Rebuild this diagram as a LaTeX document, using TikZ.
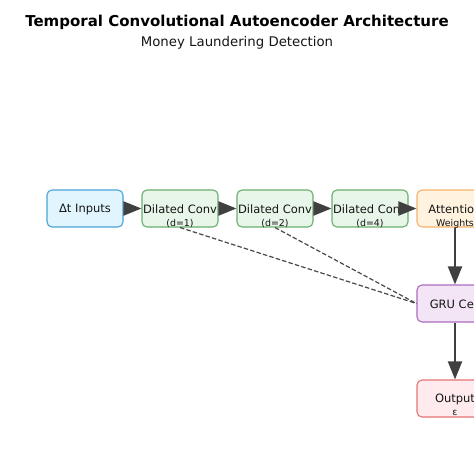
\documentclass[tikz,border=0pt]{standalone}
\usepackage{fontspec}
\setmainfont{DejaVu Sans}
\usetikzlibrary{arrows.meta}
\definecolor{txt}{HTML}{151515}
\definecolor{arr}{HTML}{404040}
\definecolor{dsh}{HTML}{484848}
\definecolor{inF}{HTML}{E1F5FE}\definecolor{inD}{HTML}{4BA3D9}
\definecolor{cvF}{HTML}{E8F5E9}\definecolor{cvD}{HTML}{6AAF6E}
\definecolor{atF}{HTML}{FFF3E0}\definecolor{atD}{HTML}{F5B26B}
\definecolor{grF}{HTML}{F3E5F5}\definecolor{grD}{HTML}{AB6CC0}
\definecolor{ouF}{HTML}{FFEBEE}\definecolor{ouD}{HTML}{E57373}
\tikzset{
  blk/.style={draw=#1D, fill=#1F, line width=1.1pt, rounded corners=5pt,
    minimum width=76pt, minimum height=37pt, inner sep=0pt},
  lab/.style={inner sep=0pt, text=txt, font=\fontsize{11.5}{13}\selectfont},
  sub/.style={inner sep=0pt, text=txt, font=\fontsize{9.4}{11}\selectfont},
  flow/.style={draw=arr, line width=2pt, -{Triangle[length=18pt,width=14pt]}, fill=arr},
  skip/.style={draw=dsh, line width=1.2pt, dash pattern=on 4.5pt off 2.2pt},
}
\begin{document}
\begin{tikzpicture}[x=1pt,y=-1pt]
\useasboundingbox (0,0) rectangle (474,474);
\clip (0,0) rectangle (474,474);
\node[font=\fontsize{15}{18}\selectfont\bfseries, text=black, inner sep=0pt] (title) at (237,22) {Temporal Convolutional Autoencoder Architecture};
\node[font=\fontsize{13.3}{16}\selectfont, text=txt, inner sep=0pt] (subtitle) at (237,43) {Money Laundering Detection};

\node[blk=in] (inp) at (85,208.5) {};
\node[blk=cv] (c1) at (180,208.5) {};
\node[blk=cv] (c2) at (275,208.5) {};
\node[blk=cv] (c3) at (370,208.5) {};
\node[blk=at] (att) at (455,208.5) {};
\node[blk=gr] (gru) at (455,303.5) {};
\node[blk=ou] (out) at (455,398.5) {};

\node[lab] (l0) at (85,209.5) {Δt Inputs};
\node[lab] (l1) at (180,209.5) {Dilated Conv};
\node[lab] (l2) at (275,209.5) {Dilated Conv};
\node[lab] (l3) at (370,209.5) {Dilated Conv};
\node[lab] (l4) at (455,209.5) {Attention};
\node[lab] (l5) at (455,304) {GRU Cell};
\node[lab] (l6) at (455,399.5) {Output};

\node[sub] (s1) at (180,223.5) {(d=1)};
\node[sub] (s2) at (275,223.5) {(d=2)};
\node[sub] (s3) at (370,223.5) {(d=4)};
\node[sub] (s4) at (455,223.5) {Weights};
\node[sub] (s5) at (455,412.5) {ε};

\draw[flow] (inp.east) -- (c1.west);
\draw[flow] (c1.east) -- (c2.west);
\draw[flow] (c2.east) -- (c3.west);
\draw[flow] (c3.east) -- (att.west);
\draw[flow] (att.south) -- (gru.north);
\draw[flow] (gru.south) -- (out.north);

\draw[skip] (c1.south) -- (gru.west);
\draw[skip] (c2.south) -- (gru.west);
\end{tikzpicture}
\end{document}
